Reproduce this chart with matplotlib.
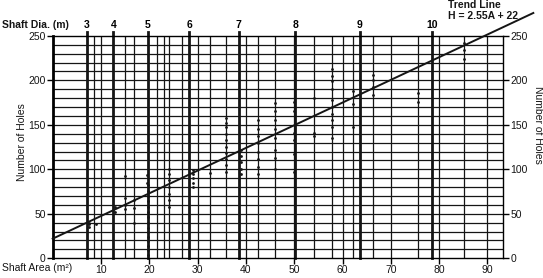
import numpy as np
import matplotlib.pyplot as plt

# shaft area (m2) vs number of drill holes
area_pts = [7.5, 7.5, 7.5, 9.0, 13.0, 13.0, 15.0, 15.0, 15.0, 15.0,
            16.8, 16.8, 16.8, 19.5, 19.5,
            19.8, 19.8, 19.8, 19.8, 19.8, 19.8, 19.8, 19.8, 19.8, 19.8, 19.8, 19.8, 19.8, 19.8, 19.8,
            24.1, 24.1, 24.1, 24.1, 24.1, 24.1, 24.1,
            29.0, 29.0, 29.0, 29.0, 29.0, 32.6,
            35.9, 35.9, 35.9, 35.9, 35.9, 35.9, 35.9, 35.9, 35.9, 35.9,
            39.0, 39.0, 39.0, 39.0, 39.0,
            42.6, 42.6, 42.6, 42.6, 42.6, 42.6, 42.6, 42.6,
            46.0, 46.0, 46.0, 46.0, 46.0, 46.0, 46.0, 46.0,
            50.0, 50.0, 50.0, 50.0, 50.0, 50.0, 54.0, 54.0, 54.0,
            57.8, 57.8, 57.8, 57.8, 57.8, 57.8, 57.8, 57.8, 57.8, 57.8,
            62.2, 62.2, 62.2, 66.4, 66.4, 66.4, 66.4,
            75.6, 75.6, 85.2, 85.2, 85.2]
holes_pts = [35, 38, 40, 38, 52, 58, 55, 60, 68, 92,
             40, 57, 65, 85, 94,
             4, 9, 14, 19, 24, 29, 34, 40, 46, 52, 58, 64, 70, 76, 82,
             58, 65, 72, 80, 88, 95, 100,
             80, 85, 90, 95, 99, 96,
             97, 105, 112, 118, 125, 133, 140, 147, 152, 158,
             95, 100, 108, 115, 122,
             95, 103, 112, 120, 130, 137, 145, 155,
             100, 113, 122, 135, 145, 155, 165, 175,
             97, 117, 133, 141, 165, 176, 137, 141, 180,
             135, 148, 155, 162, 170, 178, 199, 205, 213, 190,
             148, 173, 188, 184, 192, 200, 206,
             176, 186, 224, 234, 242]

# extra thin vertical rules (areas) and diameter rules (m)
thin_areas = [8.5, 10, 15.0, 16.8, 21.5, 23.0, 24.1, 26.7, 30, 32.6, 35.9, 40,
              42.6, 46.0, 50, 54.0, 57.8, 60, 62.2, 66.4, 70, 75.6, 80, 85.2, 90]
diameters = [3, 4, 5, 6, 7, 8, 9, 10]
area_ticks = [10, 20, 30, 40, 50, 60, 70, 80, 90]
hole_ticks = [0, 50, 100, 150, 200, 250]

# trend line H = 2.55A + 22
slope, icpt = 2.55, 22

plt.rcParams['font.family'] = ['Liberation Sans', 'DejaVu Sans']
ink = '#151515'

fig = plt.figure(figsize=(5.43, 2.78), dpi=100)
ax = fig.add_axes([0.097, 0.071, 0.830, 0.800])
ax.set_xlim(0, 93.3)
ax.set_ylim(0, 250)

# grid
for h in range(10, 250, 10):
    ax.axhline(h, color=ink, lw=0.9, zorder=1)
for a in thin_areas:
    ax.axvline(a, color=ink, lw=0.9, zorder=1)
dia_areas = [np.pi * d ** 2 / 4 for d in diameters]
for a in dia_areas:
    ax.plot([a, a], [0, 254], color=ink, lw=2.0, zorder=2, clip_on=False)

# data and trend line
ax.scatter(area_pts, holes_pts, s=4, color=ink, zorder=3, linewidths=0)
xt = np.array([0, 99.5])
ax.plot(xt, slope * xt + icpt, color=ink, lw=1.4, zorder=4, clip_on=False)

for s in ['top', 'right', 'bottom']:
    ax.spines[s].set_linewidth(1.0)
ax.spines['left'].set_linewidth(2.0)

ax.set_xticks(area_ticks)
ax.set_yticks(hole_ticks)
ax.tick_params(axis='x', direction='out', length=4, width=1, labelsize=7.5, pad=1)
ax.tick_params(axis='y', direction='out', length=4, width=1, labelsize=7.5, pad=1,
               right=True, labelright=True)
for lab in ax.get_xticklabels() + ax.get_yticklabels():
    lab.set_color(ink)

# top diameter axis
top = ax.secondary_xaxis('top', functions=(lambda a: np.sqrt(np.clip(a, 0, None) * 4 / np.pi),
                                           lambda d: np.pi * d ** 2 / 4))
top.set_xticks(diameters)
top.tick_params(direction='out', length=0, labelsize=7.5, pad=4)
for lab in top.get_xticklabels():
    lab.set_fontweight('bold')
top.spines['top'].set_visible(False)

fig.text(0.004, 0.91, 'Shaft Dia. (m)', fontsize=7.5, fontweight='bold', va='center', color=ink)
fig.text(0.004, 0.036, 'Shaft Area (m²)', fontsize=7.5, va='center', color=ink)
fig.text(0.04, 0.49, 'Number of Holes', fontsize=7.5, rotation=90, ha='center', va='center', color=ink)
fig.text(0.99, 0.55, 'Number of Holes', fontsize=7.5, rotation=270, ha='center', va='center', color=ink)
fig.text(0.825, 0.982, 'Trend Line', fontsize=7.5, fontweight='bold', ha='left', va='center', color=ink)
fig.text(0.825, 0.942, 'H = 2.55A + 22', fontsize=7.5, fontweight='bold', ha='left', va='center', color=ink)

fig.savefig('out.png', dpi=100)
